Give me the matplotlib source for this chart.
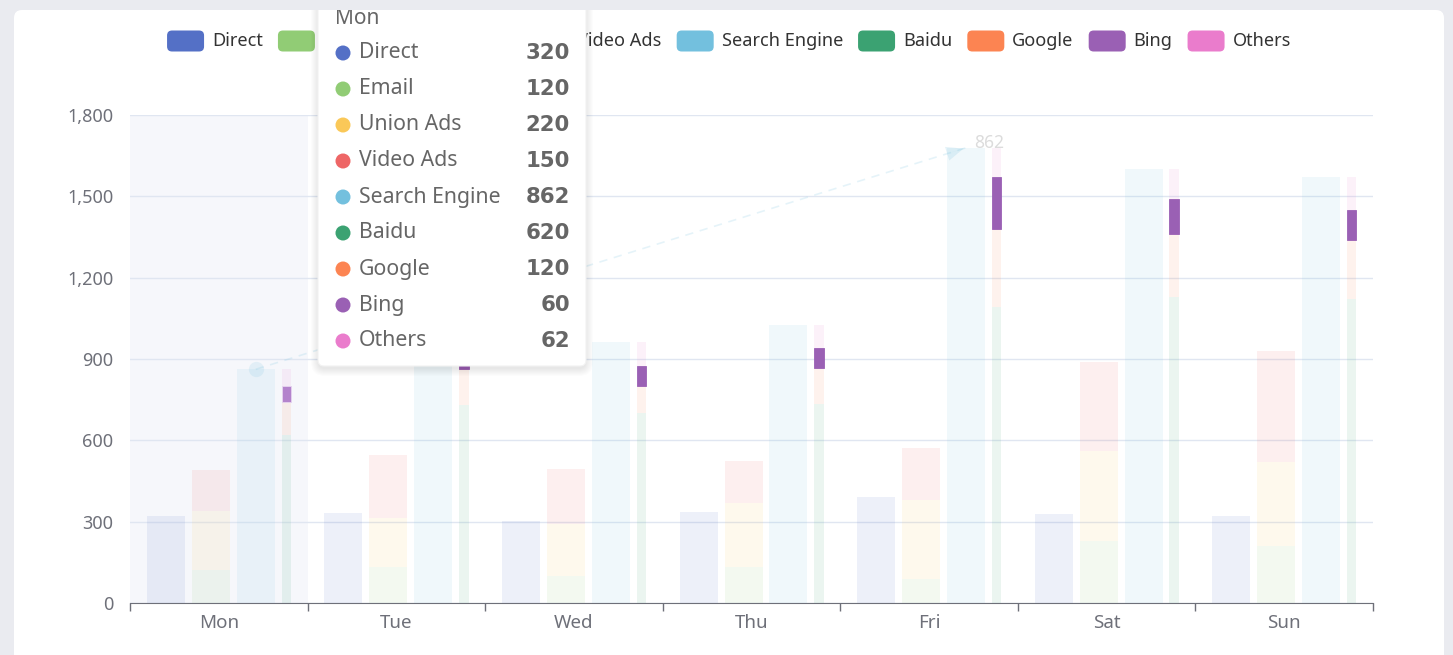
import numpy as np
import matplotlib
matplotlib.use("Agg")
import matplotlib.pyplot as plt
from matplotlib.patches import FancyBboxPatch, Rectangle, Circle
from matplotlib.ticker import FuncFormatter

plt.rcParams['font.family'] = ['Noto Sans', 'DejaVu Sans']

days = ['Mon', 'Tue', 'Wed', 'Thu', 'Fri', 'Sat', 'Sun']
direct = [320, 332, 301, 334, 390, 330, 320]
email = [120, 132, 101, 134, 90, 230, 210]
union_ads = [220, 182, 191, 234, 290, 330, 310]
video_ads = [150, 232, 201, 154, 190, 330, 410]
search_engine = [862, 1018, 964, 1026, 1679, 1600, 1570]
baidu = [620, 732, 701, 734, 1090, 1130, 1120]
google = [120, 132, 101, 134, 290, 230, 220]
bing = [60, 72, 71, 74, 190, 130, 110]
others = [62, 82, 91, 84, 109, 110, 120]

names = ['Direct', 'Email', 'Union Ads', 'Video Ads', 'Search Engine',
         'Baidu', 'Google', 'Bing', 'Others']
colors = ['#5470c6', '#91cc75', '#fac858', '#ee6666', '#73c0de',
          '#3ba272', '#fc8452', '#9a60b4', '#ea7ccc']
series = [direct, email, union_ads, video_ads, search_engine,
          baidu, google, bing, others]
hover_day = 0

W, H = 1453, 655
outer = '#eaebf0'
fig = plt.figure(figsize=(W / 100, H / 100), dpi=100)
fig.patch.set_facecolor(outer)

# card background
bg = fig.add_axes([0, 0, 1, 1], zorder=-5)
bg.set_xlim(0, W)
bg.set_ylim(H, 0)
bg.axis('off')
bg.add_patch(FancyBboxPatch((14, 10), 1430, 680, boxstyle="round,pad=0,rounding_size=8",
                            fc='white', ec='none'))

# main chart
ax = fig.add_axes([130 / W, (H - 603) / H, (1373 - 130) / W, (603 - 115) / H], zorder=1)
ax.set_facecolor('none')
ax.set_xlim(-0.5, 6.5)
ax.set_ylim(0, 1800)
x = np.arange(len(days))

fade = 0.1
bw = 0.214
thin = 0.053
off_direct, off_ad, off_se, off_thin = -0.298, -0.045, 0.208, 0.38

# axis pointer shadow on hovered category
ax.axvspan(hover_day - 0.5, hover_day + 0.5, color='#d2dbee', alpha=0.2, lw=0, zorder=0)

ax.bar(x + off_direct, direct, bw, color=colors[0], alpha=fade, zorder=2)
bottom = np.zeros(len(days))
for vals, c in zip([email, union_ads, video_ads], colors[1:4]):
    ax.bar(x + off_ad, vals, bw, bottom=bottom, color=c, alpha=fade, zorder=2)
    bottom += np.array(vals)
ax.bar(x + off_se, search_engine, bw, color=colors[4], alpha=fade, zorder=2)

bottom = np.zeros(len(days))
for name, vals, c in zip(names[5:], [baidu, google, bing, others], colors[5:]):
    if name == 'Bing':
        cols = ['#b383cc' if i == hover_day else c for i in range(len(days))]
        ax.bar(x + off_thin, vals, thin, bottom=bottom, color=cols, zorder=3,
               edgecolor=['#e6d3ef' if i == hover_day else c for i in range(len(days))],
               linewidth=0.6)
    else:
        ax.bar(x + off_thin, vals, thin, bottom=bottom, color=c, alpha=fade, zorder=2)
    bottom += np.array(vals)

# mark line min -> max on Search Engine
i_min = int(np.argmin(search_engine))
i_max = int(np.argmax(search_engine))
p0 = np.array([i_min + off_se, search_engine[i_min]])
p1 = np.array([i_max + off_se, search_engine[i_max]])
ax.plot([p0[0], p1[0]], [p0[1], p1[1]], ls=(0, (5, 4)), color=colors[4], alpha=0.18,
        lw=1.2, zorder=4)
ax.plot(p0[0], p0[1], 'o', ms=11, color=colors[4], alpha=0.15, mec='none', zorder=4)
d0 = ax.transData.transform(p0)
d1 = ax.transData.transform(p1)
u = (d1 - d0) / np.linalg.norm(d1 - d0)
tail = ax.transData.inverted().transform(d1 - u * 18)
ax.annotate('', xy=p1, xytext=tail,
            arrowprops=dict(arrowstyle='-|>,head_length=1.2,head_width=0.5',
                            color=colors[4], alpha=0.18, lw=0.1), zorder=4)
ax.annotate(str(search_engine[i_min]), xy=p1, xytext=(8, 5), textcoords='offset pixels',
            ha='left', va='center', color='#dcdcdc', fontsize=12.5, zorder=4)

# axes styling
ax.set_yticks(np.arange(0, 1801, 300))
ax.yaxis.set_major_formatter(FuncFormatter(lambda v, p: f'{int(v):,}'))
ax.grid(axis='y', color='#e0e6f1', lw=1, zorder=0)
ax.set_axisbelow(True)
for s in ['top', 'right', 'left']:
    ax.spines[s].set_visible(False)
ax.spines['bottom'].set_color('#6e7079')
ax.spines['bottom'].set_zorder(5)
ax.tick_params(axis='y', length=0, pad=12, labelsize=13, labelcolor='#6e7079')
ax.set_xticks(np.arange(-0.5, 7, 1))
ax.set_xticklabels([])
ax.set_xticks(x, minor=True)
ax.set_xticklabels(days, minor=True)
ax.tick_params(axis='x', which='major', length=6, color='#6e7079', width=1)
ax.tick_params(axis='x', which='minor', length=0, pad=8, labelsize=13.5, labelcolor='#6e7079')

# overlay: legend and tooltip in pixel coordinates
ov = fig.add_axes([0, 0, 1, 1], zorder=10)
ov.set_xlim(0, W)
ov.set_ylim(H, 0)
ov.axis('off')
ov.patch.set_visible(False)

renderer = fig.canvas.get_renderer()
icon_w, icon_h, gap_t, gap_i = 37, 21, 8, 15
texts = []
total = 0
for n in names:
    t = ov.text(0, 41, n, fontsize=13.1, color='#333333', va='center', ha='left')
    w = t.get_window_extent(renderer).width
    texts.append((t, w))
    total += icon_w + gap_t + w + gap_i
total -= gap_i
xs = 729 - total / 2
for (t, w), c in zip(texts, colors):
    ov.add_patch(FancyBboxPatch((xs, 41 - icon_h / 2), icon_w, icon_h,
                                boxstyle="round,pad=0,rounding_size=5", fc=c, ec='none'))
    t.set_x(xs + icon_w + gap_t)
    xs += icon_w + gap_t + w + gap_i

# tooltip
tx0, ty0, tx1, ty1 = 318, -10, 586, 366
for k in range(8, 0, -1):
    ov.add_patch(FancyBboxPatch((tx0 - k + 1, ty0 - k + 4), tx1 - tx0 + 2 * k - 2,
                                ty1 - ty0 + 2 * k - 2,
                                boxstyle="round,pad=0,rounding_size=%d" % (6 + k),
                                fc='black', ec='none', alpha=0.012, zorder=20))
ov.add_patch(FancyBboxPatch((tx0, ty0), tx1 - tx0, ty1 - ty0,
                            boxstyle="round,pad=0,rounding_size=6",
                            fc='white', ec='#f2f2f2', lw=0.8, zorder=21))
ov.text(335, 19, days[hover_day], fontsize=15, color='#666666', va='center', ha='left',
        zorder=22)
for r, (n, vals, c) in enumerate(zip(names, series, colors)):
    yy = 53 + 36 * r
    ov.add_patch(Circle((343, yy), 7.5, fc=c, ec='none', zorder=22))
    ov.text(359, yy, n, fontsize=15.3, color='#666666', va='center', ha='left', zorder=22)
    ov.text(570, yy, str(vals[hover_day]), fontsize=15.3, color='#666666', va='center',
            ha='right', fontweight='bold', family=['DejaVu Sans'], zorder=22)

# the page band above the card clips the tooltip
ov.add_patch(Rectangle((0, -20), W, 30, fc=outer, ec='none', zorder=30))

fig.savefig('out.png', dpi=100, facecolor=fig.get_facecolor())
